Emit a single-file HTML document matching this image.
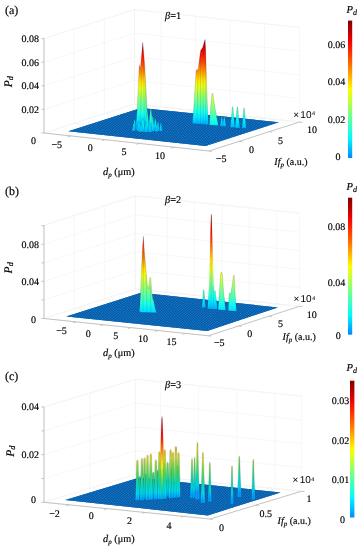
<!DOCTYPE html>
<html lang="en">
<head>
<meta charset="utf-8">
<title>Pd versus dp and Ifp for beta = 1, 2, 3</title>
<style>
html,body{margin:0;padding:0;background:#fff;}
body{width:363px;height:550px;overflow:hidden;}
svg{display:block;text-rendering:geometricPrecision;filter:blur(0.35px);}
.ts{font-family:"Liberation Serif","Times New Roman",serif;fill:#000000;stroke:#000;stroke-width:0.16px;}
.ss{font-family:"Liberation Sans",Arial,sans-serif;fill:#000000;}
</style>
</head>
<body>
<svg width="363" height="550" viewBox="0 0 363 550">
<defs>
<pattern id="mesha" width="2.75" height="2.6" patternUnits="userSpaceOnUse" patternTransform="translate(68.4 131.3) rotate(6.23)"><rect width="2.75" height="2.6" fill="#03468a"/><rect x="0.1" y="0.1" width="1.3" height="1.15" fill="#1892ee"/><rect x="1.475" y="1.4" width="1.3" height="1.15" fill="#1892ee"/></pattern>
<linearGradient id="ga" gradientUnits="userSpaceOnUse" x1="0" y1="0" x2="0" y2="-85.8"><stop offset="0" stop-color="#00b2ff"/><stop offset="0.07" stop-color="#00e5ff"/><stop offset="0.14" stop-color="#19ffe6"/><stop offset="0.21" stop-color="#4cffb3"/><stop offset="0.29" stop-color="#80ff80"/><stop offset="0.36" stop-color="#b3ff4c"/><stop offset="0.43" stop-color="#e5ff1a"/><stop offset="0.5" stop-color="#ffe600"/><stop offset="0.57" stop-color="#ffb300"/><stop offset="0.64" stop-color="#ff8000"/><stop offset="0.71" stop-color="#ff4c00"/><stop offset="0.79" stop-color="#ff1a00"/><stop offset="0.86" stop-color="#e60000"/><stop offset="0.93" stop-color="#b30000"/><stop offset="1" stop-color="#800000"/></linearGradient>
<linearGradient id="ca" x1="0" y1="1" x2="0" y2="0"><stop offset="0" stop-color="#008aff"/><stop offset="0.07" stop-color="#00c0ff"/><stop offset="0.14" stop-color="#00f6ff"/><stop offset="0.21" stop-color="#2cffd3"/><stop offset="0.29" stop-color="#62ff9d"/><stop offset="0.36" stop-color="#98ff67"/><stop offset="0.43" stop-color="#ceff31"/><stop offset="0.5" stop-color="#fffa00"/><stop offset="0.57" stop-color="#ffc400"/><stop offset="0.64" stop-color="#ff8e00"/><stop offset="0.71" stop-color="#ff5800"/><stop offset="0.79" stop-color="#ff2200"/><stop offset="0.86" stop-color="#eb0000"/><stop offset="0.93" stop-color="#b50000"/><stop offset="1" stop-color="#800000"/></linearGradient>
<pattern id="meshb" width="2.75" height="2.6" patternUnits="userSpaceOnUse" patternTransform="translate(66.3 316.5) rotate(6.01)"><rect width="2.75" height="2.6" fill="#03468a"/><rect x="0.1" y="0.1" width="1.3" height="1.15" fill="#1892ee"/><rect x="1.475" y="1.4" width="1.3" height="1.15" fill="#1892ee"/></pattern>
<linearGradient id="gb" gradientUnits="userSpaceOnUse" x1="0" y1="0" x2="0" y2="-93.5"><stop offset="0" stop-color="#00b2ff"/><stop offset="0.07" stop-color="#00e5ff"/><stop offset="0.14" stop-color="#19ffe6"/><stop offset="0.21" stop-color="#4cffb3"/><stop offset="0.29" stop-color="#80ff80"/><stop offset="0.36" stop-color="#b3ff4c"/><stop offset="0.43" stop-color="#e5ff1a"/><stop offset="0.5" stop-color="#ffe600"/><stop offset="0.57" stop-color="#ffb300"/><stop offset="0.64" stop-color="#ff8000"/><stop offset="0.71" stop-color="#ff4c00"/><stop offset="0.79" stop-color="#ff1a00"/><stop offset="0.86" stop-color="#e60000"/><stop offset="0.93" stop-color="#b30000"/><stop offset="1" stop-color="#800000"/></linearGradient>
<linearGradient id="cb" x1="0" y1="1" x2="0" y2="0"><stop offset="0" stop-color="#008aff"/><stop offset="0.07" stop-color="#00c0ff"/><stop offset="0.14" stop-color="#00f6ff"/><stop offset="0.21" stop-color="#2cffd3"/><stop offset="0.29" stop-color="#62ff9d"/><stop offset="0.36" stop-color="#98ff67"/><stop offset="0.43" stop-color="#ceff31"/><stop offset="0.5" stop-color="#fffa00"/><stop offset="0.57" stop-color="#ffc400"/><stop offset="0.64" stop-color="#ff8e00"/><stop offset="0.71" stop-color="#ff5800"/><stop offset="0.79" stop-color="#ff2200"/><stop offset="0.86" stop-color="#eb0000"/><stop offset="0.93" stop-color="#b50000"/><stop offset="1" stop-color="#800000"/></linearGradient>
<pattern id="meshc" width="2.75" height="2.6" patternUnits="userSpaceOnUse" patternTransform="translate(65.2 500) rotate(5.74)"><rect width="2.75" height="2.6" fill="#03468a"/><rect x="0.1" y="0.1" width="1.3" height="1.15" fill="#1892ee"/><rect x="1.475" y="1.4" width="1.3" height="1.15" fill="#1892ee"/></pattern>
<linearGradient id="gc" gradientUnits="userSpaceOnUse" x1="0" y1="0" x2="0" y2="-92"><stop offset="0.000" stop-color="#00a0ff"/><stop offset="0.076" stop-color="#00def5"/><stop offset="0.174" stop-color="#14e2b2"/><stop offset="0.272" stop-color="#50e664"/><stop offset="0.380" stop-color="#a5eb32"/><stop offset="0.446" stop-color="#eeee19"/><stop offset="0.500" stop-color="#ffd700"/><stop offset="0.598" stop-color="#ff9600"/><stop offset="0.707" stop-color="#ff3c00"/><stop offset="0.815" stop-color="#f00000"/><stop offset="0.924" stop-color="#aa0000"/><stop offset="1.000" stop-color="#800000"/></linearGradient>
<linearGradient id="cc" x1="0" y1="1" x2="0" y2="0"><stop offset="0" stop-color="#008aff"/><stop offset="0.07" stop-color="#00c0ff"/><stop offset="0.14" stop-color="#00f6ff"/><stop offset="0.21" stop-color="#2cffd3"/><stop offset="0.29" stop-color="#62ff9d"/><stop offset="0.36" stop-color="#98ff67"/><stop offset="0.43" stop-color="#ceff31"/><stop offset="0.5" stop-color="#fffa00"/><stop offset="0.57" stop-color="#ffc400"/><stop offset="0.64" stop-color="#ff8e00"/><stop offset="0.71" stop-color="#ff5800"/><stop offset="0.79" stop-color="#ff2200"/><stop offset="0.86" stop-color="#eb0000"/><stop offset="0.93" stop-color="#b50000"/><stop offset="1" stop-color="#800000"/></linearGradient>
</defs>
<rect width="363" height="550" fill="#ffffff"/>
<g id="panel-a"><line x1="44" y1="38.5" x2="134.5" y2="9.5" stroke="#f2f2f2" stroke-width="0.6"/>
<line x1="134.5" y1="9.5" x2="299.5" y2="27.5" stroke="#f2f2f2" stroke-width="0.6"/>
<line x1="134.5" y1="104" x2="134.5" y2="9.5" stroke="#f2f2f2" stroke-width="0.6"/>
<line x1="299.5" y1="122" x2="299.5" y2="27.5" stroke="#f2f2f2" stroke-width="0.6"/>
<line x1="44" y1="133" x2="134.5" y2="104" stroke="#f2f2f2" stroke-width="0.6"/>
<line x1="134.5" y1="104" x2="299.5" y2="122" stroke="#f2f2f2" stroke-width="0.6"/>
<line x1="44" y1="133" x2="134.5" y2="104" stroke="#f2f2f2" stroke-width="0.6"/>
<line x1="134.5" y1="104" x2="299.5" y2="122" stroke="#f2f2f2" stroke-width="0.6"/>
<line x1="44" y1="109.4" x2="134.5" y2="80.4" stroke="#f2f2f2" stroke-width="0.6"/>
<line x1="134.5" y1="80.4" x2="299.5" y2="98.4" stroke="#f2f2f2" stroke-width="0.6"/>
<line x1="44" y1="85.8" x2="134.5" y2="56.8" stroke="#f2f2f2" stroke-width="0.6"/>
<line x1="134.5" y1="56.8" x2="299.5" y2="74.8" stroke="#f2f2f2" stroke-width="0.6"/>
<line x1="44" y1="62.2" x2="134.5" y2="33.2" stroke="#f2f2f2" stroke-width="0.6"/>
<line x1="134.5" y1="33.2" x2="299.5" y2="51.2" stroke="#f2f2f2" stroke-width="0.6"/>
<line x1="44" y1="38.6" x2="134.5" y2="9.6" stroke="#f2f2f2" stroke-width="0.6"/>
<line x1="134.5" y1="9.6" x2="299.5" y2="27.6" stroke="#f2f2f2" stroke-width="0.6"/>
<line x1="44" y1="133" x2="44" y2="38.5" stroke="#f2f2f2" stroke-width="0.6"/>
<line x1="44" y1="133" x2="209" y2="151" stroke="#f2f2f2" stroke-width="0.6"/>
<line x1="74.17" y1="123.33" x2="74.17" y2="28.83" stroke="#f2f2f2" stroke-width="0.6"/>
<line x1="74.17" y1="123.33" x2="239.17" y2="141.33" stroke="#f2f2f2" stroke-width="0.6"/>
<line x1="104.33" y1="113.67" x2="104.33" y2="19.17" stroke="#f2f2f2" stroke-width="0.6"/>
<line x1="104.33" y1="113.67" x2="269.33" y2="131.67" stroke="#f2f2f2" stroke-width="0.6"/>
<line x1="134.5" y1="104" x2="134.5" y2="9.5" stroke="#f2f2f2" stroke-width="0.6"/>
<line x1="134.5" y1="104" x2="299.5" y2="122" stroke="#f2f2f2" stroke-width="0.6"/>
<line x1="161" y1="106.89" x2="161" y2="12.39" stroke="#f2f2f2" stroke-width="0.6"/>
<line x1="70.5" y1="135.89" x2="161" y2="106.89" stroke="#f2f2f2" stroke-width="0.6"/>
<line x1="195.5" y1="110.65" x2="195.5" y2="16.15" stroke="#f2f2f2" stroke-width="0.6"/>
<line x1="105" y1="139.65" x2="195.5" y2="110.65" stroke="#f2f2f2" stroke-width="0.6"/>
<line x1="230" y1="114.42" x2="230" y2="19.92" stroke="#f2f2f2" stroke-width="0.6"/>
<line x1="139.5" y1="143.42" x2="230" y2="114.42" stroke="#f2f2f2" stroke-width="0.6"/>
<line x1="264.5" y1="118.18" x2="264.5" y2="23.68" stroke="#f2f2f2" stroke-width="0.6"/>
<line x1="174" y1="147.18" x2="264.5" y2="118.18" stroke="#f2f2f2" stroke-width="0.6"/>
<line x1="44" y1="133" x2="44" y2="38.5" stroke="#bcbcbc" stroke-width="0.9"/>
<line x1="44" y1="133" x2="209" y2="151" stroke="#bcbcbc" stroke-width="0.9"/>
<line x1="209" y1="151" x2="299.5" y2="122" stroke="#bcbcbc" stroke-width="0.9"/>
<line x1="44" y1="133" x2="41.5" y2="133" stroke="#bcbcbc" stroke-width="0.9"/>
<line x1="44" y1="109.4" x2="41.5" y2="109.4" stroke="#bcbcbc" stroke-width="0.9"/>
<line x1="44" y1="85.8" x2="41.5" y2="85.8" stroke="#bcbcbc" stroke-width="0.9"/>
<line x1="44" y1="62.2" x2="41.5" y2="62.2" stroke="#bcbcbc" stroke-width="0.9"/>
<line x1="44" y1="38.6" x2="41.5" y2="38.6" stroke="#bcbcbc" stroke-width="0.9"/>
<line x1="70.5" y1="135.89" x2="67.64" y2="136.81" stroke="#bcbcbc" stroke-width="0.9"/>
<line x1="105" y1="139.65" x2="102.14" y2="140.57" stroke="#bcbcbc" stroke-width="0.9"/>
<line x1="139.5" y1="143.42" x2="136.64" y2="144.33" stroke="#bcbcbc" stroke-width="0.9"/>
<line x1="174" y1="147.18" x2="171.14" y2="148.1" stroke="#bcbcbc" stroke-width="0.9"/>
<line x1="209" y1="151" x2="211.98" y2="151.33" stroke="#bcbcbc" stroke-width="0.9"/>
<line x1="239.17" y1="141.33" x2="242.15" y2="141.66" stroke="#bcbcbc" stroke-width="0.9"/>
<line x1="269.33" y1="131.67" x2="272.32" y2="131.99" stroke="#bcbcbc" stroke-width="0.9"/>
<line x1="299.5" y1="122" x2="302.48" y2="122.33" stroke="#bcbcbc" stroke-width="0.9"/>
<polygon points="68.4,131.3 141,108 278.8,122.2 205.5,146" fill="#0f6ab4"/>
<polygon points="68.4,131.3 141,108 278.8,122.2 205.5,146" fill="url(#mesha)"/>
<g transform="translate(0 130.5)"><polygon points="132.45,0 133.62,-5.6 134.25,-10 134.7,-11.2 135.15,-10 135.78,-5.6 136.95,0" fill="url(#ga)" stroke="#0a2a3a" stroke-opacity="0.3" stroke-width="0.5"/></g>
<g transform="translate(0 130)"><polygon points="135.25,0 136.42,-7 137.05,-12.8 137.5,-14 137.95,-12.8 138.58,-7 139.75,0" fill="url(#ga)" stroke="#0a2a3a" stroke-opacity="0.3" stroke-width="0.5"/></g>
<g transform="translate(0 125.5)"><polygon points="135.5,4 137,-13.5 138,-33.5 138.8,-50.5 139.3,-60.8 140.3,-56.5 141.3,-67.5 142.8,-83.2 143.6,-73.5 144.8,-59.5 146.3,-31.5 147,-17.5 148.5,-5.5 150.5,4.5" fill="url(#ga)" stroke="#0a2a3a" stroke-opacity="0.3" stroke-width="0.5"/><line x1="141.5" y1="-55.5" x2="140.5" y2="2.5" stroke="#143c50" stroke-opacity="0.28" stroke-width="0.5"/><line x1="143.5" y1="-65.5" x2="144.5" y2="2.5" stroke="#143c50" stroke-opacity="0.28" stroke-width="0.5"/><line x1="145" y1="-45.5" x2="147" y2="2.5" stroke="#143c50" stroke-opacity="0.28" stroke-width="0.5"/></g>
<g transform="translate(0 131)"><polygon points="147.8,0 149.36,-11.15 150.35,-21.1 150.8,-22.3 151.25,-21.1 152.24,-11.15 153.8,0" fill="url(#ga)" stroke="#0a2a3a" stroke-opacity="0.3" stroke-width="0.5"/></g>
<g transform="translate(0 131.5)"><polygon points="144.5,0 145.8,-9.25 146.55,-17.3 147,-18.5 147.45,-17.3 148.2,-9.25 149.5,0" fill="url(#ga)" stroke="#0a2a3a" stroke-opacity="0.3" stroke-width="0.5"/></g>
<g transform="translate(0 132)"><polygon points="140.5,0 141.8,-7 142.55,-12.8 143,-14 143.45,-12.8 144.2,-7 145.5,0" fill="url(#ga)" stroke="#0a2a3a" stroke-opacity="0.3" stroke-width="0.5"/></g>
<g transform="translate(0 131)"><polygon points="152.8,0 154.1,-6.25 154.85,-11.3 155.3,-12.5 155.75,-11.3 156.5,-6.25 157.8,0" fill="url(#ga)" stroke="#0a2a3a" stroke-opacity="0.3" stroke-width="0.5"/></g>
<g transform="translate(0 131.5)"><polygon points="136.75,0 137.92,-5.25 138.55,-9.3 139,-10.5 139.45,-9.3 140.08,-5.25 141.25,0" fill="url(#ga)" stroke="#0a2a3a" stroke-opacity="0.3" stroke-width="0.5"/></g>
<g transform="translate(0 131.5)"><polygon points="150.8,0 151.84,-7.75 152.35,-14.3 152.8,-15.5 153.25,-14.3 153.76,-7.75 154.8,0" fill="url(#ga)" stroke="#0a2a3a" stroke-opacity="0.3" stroke-width="0.5"/></g>
<g transform="translate(0 131)"><polygon points="156,0 157.04,-5 157.55,-8.8 158,-10 158.45,-8.8 158.96,-5 160,0" fill="url(#ga)" stroke="#0a2a3a" stroke-opacity="0.3" stroke-width="0.5"/></g>
<g transform="translate(0 131.2)"><polygon points="159.15,0 160.06,-4.35 160.45,-7.5 160.9,-8.7 161.35,-7.5 161.74,-4.35 162.65,0" fill="url(#ga)" stroke="#0a2a3a" stroke-opacity="0.3" stroke-width="0.5"/></g>
<g transform="translate(0 131)"><polygon points="131.8,0 132.74,-4 133.15,-6.8 133.6,-8 134.05,-6.8 134.46,-4 135.4,0" fill="url(#ga)" stroke="#0a2a3a" stroke-opacity="0.3" stroke-width="0.5"/></g>
<g transform="translate(0 132)"><polygon points="139,0 140.04,-4.5 140.55,-7.8 141,-9 141.45,-7.8 141.96,-4.5 143,0" fill="url(#ga)" stroke="#0a2a3a" stroke-opacity="0.3" stroke-width="0.5"/></g>
<g transform="translate(0 132.3)"><polygon points="144,0 145.04,-5.65 145.55,-10.1 146,-11.3 146.45,-10.1 146.96,-5.65 148,0" fill="url(#ga)" stroke="#0a2a3a" stroke-opacity="0.3" stroke-width="0.5"/></g>
<g transform="translate(0 132.3)"><polygon points="148,0 149.04,-5.15 149.55,-9.1 150,-10.3 150.45,-9.1 150.96,-5.15 152,0" fill="url(#ga)" stroke="#0a2a3a" stroke-opacity="0.3" stroke-width="0.5"/></g>
<g transform="translate(0 131.8)"><polygon points="154.75,0 155.66,-3.9 156.05,-6.6 156.5,-7.8 156.95,-6.6 157.34,-3.9 158.25,0" fill="url(#ga)" stroke="#0a2a3a" stroke-opacity="0.3" stroke-width="0.5"/></g>
<g transform="translate(0 123.5)"><polygon points="192.3,0 193.6,-13.5 195,-35.5 196.1,-53.2 198.2,-54.2 199.3,-63.5 200.6,-73 202.6,-76 203.8,-80 205.1,-84.2 205.6,-75.5 206.1,-59.5 206.7,-37.5 207.4,-17.5 208.5,1.3" fill="url(#ga)" stroke="#0a2a3a" stroke-opacity="0.3" stroke-width="0.5"/><line x1="198" y1="-53.5" x2="197" y2="-0.5" stroke="#143c50" stroke-opacity="0.28" stroke-width="0.5"/><line x1="200.5" y1="-68.5" x2="200.5" y2="0.5" stroke="#143c50" stroke-opacity="0.28" stroke-width="0.5"/><line x1="203" y1="-73.5" x2="203.3" y2="0.5" stroke="#143c50" stroke-opacity="0.28" stroke-width="0.5"/><line x1="205.2" y1="-75.5" x2="205.8" y2="0.5" stroke="#143c50" stroke-opacity="0.28" stroke-width="0.5"/></g>
<g transform="translate(0 133)"><polygon points="209.3,-8 210.6,-25 211.8,-38.5 212.3,-40 212.9,-38.5 215,-25 218.4,-7.4" fill="url(#ga)" stroke="#0a2a3a" stroke-opacity="0.3" stroke-width="0.5"/></g>
<g transform="translate(0 126.2)"><polygon points="219.8,0 220.84,-4.95 221.35,-8.7 221.8,-9.9 222.25,-8.7 222.76,-4.95 223.8,0" fill="url(#ga)" stroke="#0a2a3a" stroke-opacity="0.3" stroke-width="0.5"/></g>
<g transform="translate(0 126.4)"><polygon points="222.2,0 223.29,-4.95 223.85,-8.7 224.3,-9.9 224.75,-8.7 225.31,-4.95 226.4,0" fill="url(#ga)" stroke="#0a2a3a" stroke-opacity="0.3" stroke-width="0.5"/></g>
<g transform="translate(0 127.6)"><polygon points="230.2,0 231.45,-10.5 232.15,-19.8 232.6,-21 233.05,-19.8 233.75,-10.5 235,0" fill="url(#ga)" stroke="#0a2a3a" stroke-opacity="0.3" stroke-width="0.5"/></g>
<g transform="translate(0 128)"><polygon points="234.8,0 236.15,-10.6 236.95,-20 237.4,-21.2 237.85,-20 238.65,-10.6 240,0" fill="url(#ga)" stroke="#0a2a3a" stroke-opacity="0.3" stroke-width="0.5"/></g>
<g transform="translate(0 128.2)"><polygon points="241.8,0 243,-10.2 243.65,-19.2 244.1,-20.4 244.55,-19.2 245.2,-10.2 246.4,0" fill="url(#ga)" stroke="#0a2a3a" stroke-opacity="0.3" stroke-width="0.5"/></g>
<text class="ts" x="5" y="14" font-size="12" text-anchor="start">(a)</text>
<text class="ts" x="165" y="19.2" font-size="10.3" text-anchor="start"><tspan font-style="italic">β</tspan>=1</text>
<text class="ts" x="39" y="112.7" font-size="10" text-anchor="end">0.02</text>
<text class="ts" x="39" y="89.1" font-size="10" text-anchor="end">0.04</text>
<text class="ts" x="39" y="65.5" font-size="10" text-anchor="end">0.06</text>
<text class="ts" x="39" y="41.9" font-size="10" text-anchor="end">0.08</text>
<text class="ts" x="33.5" y="143.8" font-size="10" text-anchor="middle">0</text>
<text class="ts" x="56.7" y="148.3" font-size="10" text-anchor="middle">−5</text>
<text class="ts" x="90.2" y="151" font-size="10" text-anchor="middle">0</text>
<text class="ts" x="124" y="155.3" font-size="10" text-anchor="middle">5</text>
<text class="ts" x="160" y="159" font-size="10" text-anchor="middle">10</text>
<text class="ts" x="221.3" y="162.1" font-size="10" text-anchor="middle">−5</text>
<text class="ts" x="251.4" y="153.3" font-size="10" text-anchor="middle">0</text>
<text class="ts" x="280.5" y="143.6" font-size="10" text-anchor="middle">5</text>
<text class="ts" x="312" y="132.6" font-size="10" text-anchor="middle">10</text>
<text class="ts" font-size="11.5" text-anchor="middle" transform="translate(12 81.7) rotate(-90)"><tspan font-style="italic">P</tspan><tspan font-style="italic" font-size="8.3" dy="0.9">d</tspan></text>
<text class="ts" font-size="10.3" x="103" y="175"><tspan font-style="italic">d</tspan><tspan font-style="italic" font-size="7" dy="2">p</tspan><tspan dy="-2"> (μm)</tspan></text>
<text class="ts" font-size="10" x="274.3" y="165"><tspan font-style="italic">If</tspan><tspan font-style="italic" font-size="7" dy="2">p</tspan><tspan dy="-2"> (a.u.)</tspan></text>
<text class="ss" font-size="10" x="293.3" y="117.5">×<tspan dx="1.2">10</tspan><tspan font-size="5.6" dx="0.5" dy="-2.3">4</tspan></text>
<rect x="348" y="20.6" width="4.2" height="137.4" fill="url(#ca)"/>
<text class="ts" x="345.3" y="47.7" font-size="10" text-anchor="end">0.06</text>
<text class="ts" x="345.3" y="85.3" font-size="10" text-anchor="end">0.04</text>
<text class="ts" x="345.3" y="123.3" font-size="10" text-anchor="end">0.02</text>
<text class="ts" x="338" y="159.5" font-size="10" text-anchor="middle">0</text>
<text class="ts" font-size="10.6" x="346.5" y="13"><tspan font-style="italic">P</tspan><tspan font-style="italic" font-size="8" dy="2.2">d</tspan></text></g>
<g id="panel-b"><line x1="44" y1="225" x2="135.2" y2="195.5" stroke="#f2f2f2" stroke-width="0.6"/>
<line x1="135.2" y1="195.5" x2="299.6" y2="212.8" stroke="#f2f2f2" stroke-width="0.6"/>
<line x1="135.2" y1="289" x2="135.2" y2="195.5" stroke="#f2f2f2" stroke-width="0.6"/>
<line x1="299.6" y1="306.3" x2="299.6" y2="212.8" stroke="#f2f2f2" stroke-width="0.6"/>
<line x1="44" y1="318.5" x2="135.2" y2="289" stroke="#f2f2f2" stroke-width="0.6"/>
<line x1="135.2" y1="289" x2="299.6" y2="306.3" stroke="#f2f2f2" stroke-width="0.6"/>
<line x1="44" y1="318.5" x2="135.2" y2="289" stroke="#f2f2f2" stroke-width="0.6"/>
<line x1="135.2" y1="289" x2="299.6" y2="306.3" stroke="#f2f2f2" stroke-width="0.6"/>
<line x1="44" y1="299.95" x2="135.2" y2="270.45" stroke="#f2f2f2" stroke-width="0.6"/>
<line x1="135.2" y1="270.45" x2="299.6" y2="287.75" stroke="#f2f2f2" stroke-width="0.6"/>
<line x1="44" y1="281.4" x2="135.2" y2="251.9" stroke="#f2f2f2" stroke-width="0.6"/>
<line x1="135.2" y1="251.9" x2="299.6" y2="269.2" stroke="#f2f2f2" stroke-width="0.6"/>
<line x1="44" y1="262.85" x2="135.2" y2="233.35" stroke="#f2f2f2" stroke-width="0.6"/>
<line x1="135.2" y1="233.35" x2="299.6" y2="250.65" stroke="#f2f2f2" stroke-width="0.6"/>
<line x1="44" y1="244.3" x2="135.2" y2="214.8" stroke="#f2f2f2" stroke-width="0.6"/>
<line x1="135.2" y1="214.8" x2="299.6" y2="232.1" stroke="#f2f2f2" stroke-width="0.6"/>
<line x1="44" y1="225.75" x2="135.2" y2="196.25" stroke="#f2f2f2" stroke-width="0.6"/>
<line x1="135.2" y1="196.25" x2="299.6" y2="213.55" stroke="#f2f2f2" stroke-width="0.6"/>
<line x1="44" y1="318.5" x2="44" y2="225" stroke="#f2f2f2" stroke-width="0.6"/>
<line x1="44" y1="318.5" x2="208.4" y2="335.8" stroke="#f2f2f2" stroke-width="0.6"/>
<line x1="74.4" y1="308.67" x2="74.4" y2="215.17" stroke="#f2f2f2" stroke-width="0.6"/>
<line x1="74.4" y1="308.67" x2="238.8" y2="325.97" stroke="#f2f2f2" stroke-width="0.6"/>
<line x1="104.8" y1="298.83" x2="104.8" y2="205.33" stroke="#f2f2f2" stroke-width="0.6"/>
<line x1="104.8" y1="298.83" x2="269.2" y2="316.13" stroke="#f2f2f2" stroke-width="0.6"/>
<line x1="135.2" y1="289" x2="135.2" y2="195.5" stroke="#f2f2f2" stroke-width="0.6"/>
<line x1="135.2" y1="289" x2="299.6" y2="306.3" stroke="#f2f2f2" stroke-width="0.6"/>
<line x1="167.08" y1="292.36" x2="167.08" y2="198.86" stroke="#f2f2f2" stroke-width="0.6"/>
<line x1="75.88" y1="321.86" x2="167.08" y2="292.36" stroke="#f2f2f2" stroke-width="0.6"/>
<line x1="194.48" y1="295.24" x2="194.48" y2="201.74" stroke="#f2f2f2" stroke-width="0.6"/>
<line x1="103.28" y1="324.74" x2="194.48" y2="295.24" stroke="#f2f2f2" stroke-width="0.6"/>
<line x1="221.88" y1="298.12" x2="221.88" y2="204.62" stroke="#f2f2f2" stroke-width="0.6"/>
<line x1="130.68" y1="327.62" x2="221.88" y2="298.12" stroke="#f2f2f2" stroke-width="0.6"/>
<line x1="249.28" y1="301.01" x2="249.28" y2="207.51" stroke="#f2f2f2" stroke-width="0.6"/>
<line x1="158.08" y1="330.51" x2="249.28" y2="301.01" stroke="#f2f2f2" stroke-width="0.6"/>
<line x1="276.68" y1="303.89" x2="276.68" y2="210.39" stroke="#f2f2f2" stroke-width="0.6"/>
<line x1="185.48" y1="333.39" x2="276.68" y2="303.89" stroke="#f2f2f2" stroke-width="0.6"/>
<line x1="44" y1="318.5" x2="44" y2="225" stroke="#bcbcbc" stroke-width="0.9"/>
<line x1="44" y1="318.5" x2="208.4" y2="335.8" stroke="#bcbcbc" stroke-width="0.9"/>
<line x1="208.4" y1="335.8" x2="299.6" y2="306.3" stroke="#bcbcbc" stroke-width="0.9"/>
<line x1="44" y1="318.5" x2="41.5" y2="318.5" stroke="#bcbcbc" stroke-width="0.9"/>
<line x1="44" y1="299.95" x2="41.5" y2="299.95" stroke="#bcbcbc" stroke-width="0.9"/>
<line x1="44" y1="281.4" x2="41.5" y2="281.4" stroke="#bcbcbc" stroke-width="0.9"/>
<line x1="44" y1="262.85" x2="41.5" y2="262.85" stroke="#bcbcbc" stroke-width="0.9"/>
<line x1="44" y1="244.3" x2="41.5" y2="244.3" stroke="#bcbcbc" stroke-width="0.9"/>
<line x1="44" y1="225.75" x2="41.5" y2="225.75" stroke="#bcbcbc" stroke-width="0.9"/>
<line x1="75.88" y1="321.86" x2="73.03" y2="322.78" stroke="#bcbcbc" stroke-width="0.9"/>
<line x1="103.28" y1="324.74" x2="100.43" y2="325.66" stroke="#bcbcbc" stroke-width="0.9"/>
<line x1="130.68" y1="327.62" x2="127.83" y2="328.55" stroke="#bcbcbc" stroke-width="0.9"/>
<line x1="158.08" y1="330.51" x2="155.23" y2="331.43" stroke="#bcbcbc" stroke-width="0.9"/>
<line x1="185.48" y1="333.39" x2="182.63" y2="334.31" stroke="#bcbcbc" stroke-width="0.9"/>
<line x1="208.4" y1="335.8" x2="211.38" y2="336.11" stroke="#bcbcbc" stroke-width="0.9"/>
<line x1="238.8" y1="325.97" x2="241.78" y2="326.28" stroke="#bcbcbc" stroke-width="0.9"/>
<line x1="269.2" y1="316.13" x2="272.18" y2="316.45" stroke="#bcbcbc" stroke-width="0.9"/>
<line x1="299.6" y1="306.3" x2="302.58" y2="306.61" stroke="#bcbcbc" stroke-width="0.9"/>
<polygon points="66.3,316.5 141,292.8 277.8,307.5 207.2,330.9" fill="#0f6ab4"/>
<polygon points="66.3,316.5 141,292.8 277.8,307.5 207.2,330.9" fill="url(#meshb)"/>
<g transform="translate(0 311)"><polygon points="139,0 140.04,-5.5 140.55,-9.8 141,-11 141.45,-9.8 141.96,-5.5 143,0" fill="url(#gb)" stroke="#0a2a3a" stroke-opacity="0.3" stroke-width="0.5"/></g>
<g transform="translate(0 312.3)"><polygon points="151.25,0 152.42,-6.65 153.05,-12.1 153.5,-13.3 153.95,-12.1 154.58,-6.65 155.75,0" fill="url(#gb)" stroke="#0a2a3a" stroke-opacity="0.3" stroke-width="0.5"/></g>
<g transform="translate(0 317)"><polygon points="139.6,-4.7 140.3,-19 141.4,-45 142.3,-65 143.3,-81 144.4,-65 145.8,-49 147.2,-33 148.6,-28 149.6,-38 150.2,-39.7 150.9,-38 151.6,-27 153,-17 156.5,-4.2" fill="url(#gb)" stroke="#0a2a3a" stroke-opacity="0.3" stroke-width="0.5"/><line x1="143.5" y1="-67" x2="143" y2="-6" stroke="#143c50" stroke-opacity="0.28" stroke-width="0.5"/><line x1="146" y1="-42" x2="147" y2="-5" stroke="#143c50" stroke-opacity="0.28" stroke-width="0.5"/><line x1="150" y1="-32" x2="151" y2="-5" stroke="#143c50" stroke-opacity="0.28" stroke-width="0.5"/></g>
<g transform="translate(0 307.8)"><polygon points="201.7,0 202.74,-9.15 203.25,-17.1 203.7,-18.3 204.15,-17.1 204.66,-9.15 205.7,0" fill="url(#gb)" stroke="#0a2a3a" stroke-opacity="0.3" stroke-width="0.5"/></g>
<g transform="translate(0 309)"><polygon points="207.6,-0.2 208.6,-15 209.3,-25 209.9,-47 210.4,-74 211,-93 211.3,-95.4 211.6,-93 212.2,-74 212.8,-47 213.5,-25 214,-19 215.5,-18 216.3,-11 217.3,0.3" fill="url(#gb)" stroke="#0a2a3a" stroke-opacity="0.15" stroke-width="0.5"/><line x1="211.2" y1="-47" x2="211" y2="-1" stroke="#143c50" stroke-opacity="0.28" stroke-width="0.5"/><line x1="212.8" y1="-23" x2="214" y2="-1" stroke="#143c50" stroke-opacity="0.28" stroke-width="0.5"/></g>
<g transform="translate(0 316)"><polygon points="218,-6.2 219.4,-24 220.6,-42 221,-43.6 221.8,-43.6 222.3,-42 223.6,-24 225.7,-5.7" fill="url(#gb)" stroke="#0a2a3a" stroke-opacity="0.3" stroke-width="0.5"/></g>
<g transform="translate(0 316)"><polygon points="228.2,-5.2 229,-20 229.7,-23.4 230.6,-21 232.4,-32 233.5,-40.5 234.2,-41 234.8,-28 235.6,-15 236.6,-4.7" fill="url(#gb)" stroke="#0a2a3a" stroke-opacity="0.3" stroke-width="0.5"/></g>
<text class="ts" x="5" y="194.6" font-size="12" text-anchor="start">(b)</text>
<text class="ts" x="165" y="202.8" font-size="10.3" text-anchor="start"><tspan font-style="italic">β</tspan>=2</text>
<text class="ts" x="39" y="284.7" font-size="10" text-anchor="end">0.04</text>
<text class="ts" x="39" y="247.6" font-size="10" text-anchor="end">0.08</text>
<text class="ts" x="33.5" y="322.8" font-size="10" text-anchor="middle">0</text>
<text class="ts" x="61.5" y="333.5" font-size="10" text-anchor="middle">−5</text>
<text class="ts" x="88.3" y="336.9" font-size="10" text-anchor="middle">0</text>
<text class="ts" x="115.8" y="338.5" font-size="10" text-anchor="middle">5</text>
<text class="ts" x="143" y="341.9" font-size="10" text-anchor="middle">10</text>
<text class="ts" x="171.5" y="344.6" font-size="10" text-anchor="middle">15</text>
<text class="ts" x="219.3" y="346.3" font-size="10" text-anchor="middle">−5</text>
<text class="ts" x="249.7" y="336.9" font-size="10" text-anchor="middle">0</text>
<text class="ts" x="280.6" y="327.3" font-size="10" text-anchor="middle">5</text>
<text class="ts" x="311.7" y="317.6" font-size="10" text-anchor="middle">10</text>
<text class="ts" font-size="11.5" text-anchor="middle" transform="translate(12 267.8) rotate(-90)"><tspan font-style="italic">P</tspan><tspan font-style="italic" font-size="8.3" dy="0.9">d</tspan></text>
<text class="ts" font-size="10.3" x="103" y="356"><tspan font-style="italic">d</tspan><tspan font-style="italic" font-size="7" dy="2">p</tspan><tspan dy="-2"> (μm)</tspan></text>
<text class="ts" font-size="10" x="282.6" y="339.7"><tspan font-style="italic">If</tspan><tspan font-style="italic" font-size="7" dy="2">p</tspan><tspan dy="-2"> (a.u.)</tspan></text>
<text class="ss" font-size="10" x="293.5" y="301.8">×<tspan dx="1.2">10</tspan><tspan font-size="5.6" dx="0.5" dy="-2.3">4</tspan></text>
<rect x="348" y="197.7" width="4.2" height="137" fill="url(#cb)"/>
<text class="ts" x="345.3" y="229.9" font-size="10" text-anchor="end">0.08</text>
<text class="ts" x="345.3" y="285.8" font-size="10" text-anchor="end">0.04</text>
<text class="ts" x="338.3" y="338.6" font-size="10" text-anchor="middle">0</text>
<text class="ts" font-size="10.6" x="346.5" y="189.7"><tspan font-style="italic">P</tspan><tspan font-style="italic" font-size="8" dy="2.2">d</tspan></text></g>
<g id="panel-c"><line x1="44" y1="407" x2="135.4" y2="379.3" stroke="#f2f2f2" stroke-width="0.6"/>
<line x1="135.4" y1="379.3" x2="301.4" y2="396" stroke="#f2f2f2" stroke-width="0.6"/>
<line x1="135.4" y1="474.6" x2="135.4" y2="379.3" stroke="#f2f2f2" stroke-width="0.6"/>
<line x1="301.4" y1="491.3" x2="301.4" y2="396" stroke="#f2f2f2" stroke-width="0.6"/>
<line x1="44" y1="502.3" x2="135.4" y2="474.6" stroke="#f2f2f2" stroke-width="0.6"/>
<line x1="135.4" y1="474.6" x2="301.4" y2="491.3" stroke="#f2f2f2" stroke-width="0.6"/>
<line x1="44" y1="502.3" x2="135.4" y2="474.6" stroke="#f2f2f2" stroke-width="0.6"/>
<line x1="135.4" y1="474.6" x2="301.4" y2="491.3" stroke="#f2f2f2" stroke-width="0.6"/>
<line x1="44" y1="478.47" x2="135.4" y2="450.77" stroke="#f2f2f2" stroke-width="0.6"/>
<line x1="135.4" y1="450.77" x2="301.4" y2="467.47" stroke="#f2f2f2" stroke-width="0.6"/>
<line x1="44" y1="454.64" x2="135.4" y2="426.94" stroke="#f2f2f2" stroke-width="0.6"/>
<line x1="135.4" y1="426.94" x2="301.4" y2="443.64" stroke="#f2f2f2" stroke-width="0.6"/>
<line x1="44" y1="430.81" x2="135.4" y2="403.11" stroke="#f2f2f2" stroke-width="0.6"/>
<line x1="135.4" y1="403.11" x2="301.4" y2="419.81" stroke="#f2f2f2" stroke-width="0.6"/>
<line x1="44" y1="406.98" x2="135.4" y2="379.28" stroke="#f2f2f2" stroke-width="0.6"/>
<line x1="135.4" y1="379.28" x2="301.4" y2="395.98" stroke="#f2f2f2" stroke-width="0.6"/>
<line x1="44" y1="502.3" x2="44" y2="407" stroke="#f2f2f2" stroke-width="0.6"/>
<line x1="44" y1="502.3" x2="210" y2="519" stroke="#f2f2f2" stroke-width="0.6"/>
<line x1="89.7" y1="488.45" x2="89.7" y2="393.15" stroke="#f2f2f2" stroke-width="0.6"/>
<line x1="89.7" y1="488.45" x2="255.7" y2="505.15" stroke="#f2f2f2" stroke-width="0.6"/>
<line x1="135.4" y1="474.6" x2="135.4" y2="379.3" stroke="#f2f2f2" stroke-width="0.6"/>
<line x1="135.4" y1="474.6" x2="301.4" y2="491.3" stroke="#f2f2f2" stroke-width="0.6"/>
<line x1="160.4" y1="477.12" x2="160.4" y2="381.82" stroke="#f2f2f2" stroke-width="0.6"/>
<line x1="69" y1="504.82" x2="160.4" y2="477.12" stroke="#f2f2f2" stroke-width="0.6"/>
<line x1="198.6" y1="480.96" x2="198.6" y2="385.66" stroke="#f2f2f2" stroke-width="0.6"/>
<line x1="107.2" y1="508.66" x2="198.6" y2="480.96" stroke="#f2f2f2" stroke-width="0.6"/>
<line x1="236.8" y1="484.8" x2="236.8" y2="389.5" stroke="#f2f2f2" stroke-width="0.6"/>
<line x1="145.4" y1="512.5" x2="236.8" y2="484.8" stroke="#f2f2f2" stroke-width="0.6"/>
<line x1="275" y1="488.64" x2="275" y2="393.34" stroke="#f2f2f2" stroke-width="0.6"/>
<line x1="183.6" y1="516.34" x2="275" y2="488.64" stroke="#f2f2f2" stroke-width="0.6"/>
<line x1="44" y1="502.3" x2="44" y2="407" stroke="#bcbcbc" stroke-width="0.9"/>
<line x1="44" y1="502.3" x2="210" y2="519" stroke="#bcbcbc" stroke-width="0.9"/>
<line x1="210" y1="519" x2="301.4" y2="491.3" stroke="#bcbcbc" stroke-width="0.9"/>
<line x1="44" y1="502.3" x2="41.5" y2="502.3" stroke="#bcbcbc" stroke-width="0.9"/>
<line x1="44" y1="478.47" x2="41.5" y2="478.47" stroke="#bcbcbc" stroke-width="0.9"/>
<line x1="44" y1="454.64" x2="41.5" y2="454.64" stroke="#bcbcbc" stroke-width="0.9"/>
<line x1="44" y1="430.81" x2="41.5" y2="430.81" stroke="#bcbcbc" stroke-width="0.9"/>
<line x1="44" y1="406.98" x2="41.5" y2="406.98" stroke="#bcbcbc" stroke-width="0.9"/>
<line x1="69" y1="504.82" x2="66.13" y2="505.69" stroke="#bcbcbc" stroke-width="0.9"/>
<line x1="107.2" y1="508.66" x2="104.33" y2="509.53" stroke="#bcbcbc" stroke-width="0.9"/>
<line x1="145.4" y1="512.5" x2="142.53" y2="513.37" stroke="#bcbcbc" stroke-width="0.9"/>
<line x1="183.6" y1="516.34" x2="180.73" y2="517.21" stroke="#bcbcbc" stroke-width="0.9"/>
<line x1="210" y1="519" x2="212.98" y2="519.3" stroke="#bcbcbc" stroke-width="0.9"/>
<line x1="255.7" y1="505.15" x2="258.68" y2="505.45" stroke="#bcbcbc" stroke-width="0.9"/>
<line x1="301.4" y1="491.3" x2="304.38" y2="491.6" stroke="#bcbcbc" stroke-width="0.9"/>
<polygon points="65.2,500 138.8,477.8 280.6,492.4 207.8,515.4" fill="#0f6ab4"/>
<polygon points="65.2,500 138.8,477.8 280.6,492.4 207.8,515.4" fill="url(#meshc)"/>
<g transform="translate(0 497.5)"><polygon points="137.6,0 138.48,-10.75 139.1,-20.3 139.8,-21.5 140.5,-20.3 141.12,-10.75 142,0" fill="url(#gc)" stroke="#0a2a3a" stroke-opacity="0.38" stroke-width="0.5"/><line x1="139.8" y1="-19.5" x2="139.8" y2="-0.5" stroke="#143c50" stroke-opacity="0.28" stroke-width="0.5"/></g>
<g transform="translate(0 497.5)"><polygon points="143.6,0 144.48,-11.75 145.1,-22.3 145.8,-23.5 146.5,-22.3 147.12,-11.75 148,0" fill="url(#gc)" stroke="#0a2a3a" stroke-opacity="0.38" stroke-width="0.5"/><line x1="145.8" y1="-21.5" x2="145.8" y2="-0.5" stroke="#143c50" stroke-opacity="0.28" stroke-width="0.5"/></g>
<g transform="translate(0 497.3)"><polygon points="147.1,0 147.94,-9.65 148.5,-18.1 149.2,-19.3 149.9,-18.1 150.46,-9.65 151.3,0" fill="url(#gc)" stroke="#0a2a3a" stroke-opacity="0.38" stroke-width="0.5"/><line x1="149.2" y1="-17.3" x2="149.2" y2="-0.5" stroke="#143c50" stroke-opacity="0.28" stroke-width="0.5"/></g>
<g transform="translate(0 497.5)"><polygon points="151.1,0 151.98,-12.75 152.6,-24.3 153.3,-25.5 154,-24.3 154.62,-12.75 155.5,0" fill="url(#gc)" stroke="#0a2a3a" stroke-opacity="0.38" stroke-width="0.5"/><line x1="153.3" y1="-23.5" x2="153.3" y2="-0.5" stroke="#143c50" stroke-opacity="0.28" stroke-width="0.5"/></g>
<g transform="translate(0 497)"><polygon points="155.3,0 156.18,-13.5 156.8,-25.8 157.5,-27 158.2,-25.8 158.82,-13.5 159.7,0" fill="url(#gc)" stroke="#0a2a3a" stroke-opacity="0.38" stroke-width="0.5"/><line x1="157.5" y1="-25" x2="157.5" y2="-0.5" stroke="#143c50" stroke-opacity="0.28" stroke-width="0.5"/></g>
<g transform="translate(0 496.8)"><polygon points="161.3,0 162.14,-15.4 162.7,-29.6 163.4,-30.8 164.1,-29.6 164.66,-15.4 165.5,0" fill="url(#gc)" stroke="#0a2a3a" stroke-opacity="0.38" stroke-width="0.5"/><line x1="163.4" y1="-28.8" x2="163.4" y2="-0.5" stroke="#143c50" stroke-opacity="0.28" stroke-width="0.5"/></g>
<g transform="translate(0 496.5)"><polygon points="165.4,0 166.28,-17.25 166.9,-33.3 167.6,-34.5 168.3,-33.3 168.92,-17.25 169.8,0" fill="url(#gc)" stroke="#0a2a3a" stroke-opacity="0.38" stroke-width="0.5"/><line x1="167.6" y1="-32.5" x2="167.6" y2="-0.5" stroke="#143c50" stroke-opacity="0.28" stroke-width="0.5"/></g>
<g transform="translate(0 496.5)"><polygon points="169.9,0 170.74,-14.25 171.3,-27.3 172,-28.5 172.7,-27.3 173.26,-14.25 174.1,0" fill="url(#gc)" stroke="#0a2a3a" stroke-opacity="0.38" stroke-width="0.5"/><line x1="172" y1="-26.5" x2="172" y2="-0.5" stroke="#143c50" stroke-opacity="0.28" stroke-width="0.5"/></g>
<g transform="translate(0 496.5)"><polygon points="175.3,0 176.1,-15.25 176.6,-29.3 177.3,-30.5 178,-29.3 178.5,-15.25 179.3,0" fill="url(#gc)" stroke="#0a2a3a" stroke-opacity="0.38" stroke-width="0.5"/><line x1="177.3" y1="-28.5" x2="177.3" y2="-0.5" stroke="#143c50" stroke-opacity="0.28" stroke-width="0.5"/></g>
<g transform="translate(0 507.5)"><polygon points="159.4,-8.3 160.2,-37.5 160.8,-67.5 161.6,-88.5 162,-91.5 162.4,-88.5 163.2,-67.5 163.8,-37.5 164.8,-8.5" fill="url(#gc)" stroke="#0a2a3a" stroke-opacity="0.15" stroke-width="0.5"/></g>
<g transform="translate(0 500.6)"><polygon points="135.2,0 136.08,-20.4 136.7,-39.6 137.4,-40.8 138.1,-39.6 138.72,-20.4 139.6,0" fill="url(#gc)" stroke="#0a2a3a" stroke-opacity="0.38" stroke-width="0.5"/><line x1="137.4" y1="-38.8" x2="137.4" y2="-0.5" stroke="#143c50" stroke-opacity="0.28" stroke-width="0.5"/></g>
<g transform="translate(0 500.5)"><polygon points="139.8,0 140.68,-21.2 141.3,-41.2 142,-42.4 142.7,-41.2 143.32,-21.2 144.2,0" fill="url(#gc)" stroke="#0a2a3a" stroke-opacity="0.38" stroke-width="0.5"/><line x1="142" y1="-40.4" x2="142" y2="-0.5" stroke="#143c50" stroke-opacity="0.28" stroke-width="0.5"/></g>
<g transform="translate(0 499)"><polygon points="142.8,0 143.52,-20.75 143.9,-40.3 144.6,-41.5 145.3,-40.3 145.68,-20.75 146.4,0" fill="url(#gc)" stroke="#0a2a3a" stroke-opacity="0.38" stroke-width="0.5"/><line x1="144.6" y1="-39.5" x2="144.6" y2="-0.5" stroke="#143c50" stroke-opacity="0.28" stroke-width="0.5"/></g>
<g transform="translate(0 500.3)"><polygon points="145.3,0 146.18,-22.75 146.8,-44.3 147.5,-45.5 148.2,-44.3 148.82,-22.75 149.7,0" fill="url(#gc)" stroke="#0a2a3a" stroke-opacity="0.38" stroke-width="0.5"/><line x1="147.5" y1="-43.5" x2="147.5" y2="-0.5" stroke="#143c50" stroke-opacity="0.28" stroke-width="0.5"/></g>
<g transform="translate(0 500)"><polygon points="148.5,0 149.42,-23.25 150.1,-45.3 150.8,-46.5 151.5,-45.3 152.18,-23.25 153.1,0" fill="url(#gc)" stroke="#0a2a3a" stroke-opacity="0.38" stroke-width="0.5"/><line x1="150.8" y1="-44.5" x2="150.8" y2="-0.5" stroke="#143c50" stroke-opacity="0.28" stroke-width="0.5"/></g>
<g transform="translate(0 499.7)"><polygon points="153.6,0 154.48,-20.1 155.1,-39 155.8,-40.2 156.5,-39 157.12,-20.1 158,0" fill="url(#gc)" stroke="#0a2a3a" stroke-opacity="0.38" stroke-width="0.5"/><line x1="155.8" y1="-38.2" x2="155.8" y2="-0.5" stroke="#143c50" stroke-opacity="0.28" stroke-width="0.5"/></g>
<g transform="translate(0 499.5)"><polygon points="157.3,0 158.14,-24 158.7,-46.8 159.4,-48 160.1,-46.8 160.66,-24 161.5,0" fill="url(#gc)" stroke="#0a2a3a" stroke-opacity="0.38" stroke-width="0.5"/><line x1="159.4" y1="-46" x2="159.4" y2="-0.5" stroke="#143c50" stroke-opacity="0.28" stroke-width="0.5"/></g>
<g transform="translate(0 499)"><polygon points="162.5,0 163.38,-24.75 164,-48.3 164.7,-49.5 165.4,-48.3 166.02,-24.75 166.9,0" fill="url(#gc)" stroke="#0a2a3a" stroke-opacity="0.38" stroke-width="0.5"/><line x1="164.7" y1="-47.5" x2="164.7" y2="-0.5" stroke="#143c50" stroke-opacity="0.28" stroke-width="0.5"/></g>
<g transform="translate(0 498.6)"><polygon points="168.3,0 169.22,-24.55 169.9,-47.9 170.6,-49.1 171.3,-47.9 171.98,-24.55 172.9,0" fill="url(#gc)" stroke="#0a2a3a" stroke-opacity="0.38" stroke-width="0.5"/><line x1="170.6" y1="-47.1" x2="170.6" y2="-0.5" stroke="#143c50" stroke-opacity="0.28" stroke-width="0.5"/></g>
<g transform="translate(0 498.3)"><polygon points="171.1,0 171.86,-23.15 172.3,-45.1 173,-46.3 173.7,-45.1 174.14,-23.15 174.9,0" fill="url(#gc)" stroke="#0a2a3a" stroke-opacity="0.38" stroke-width="0.5"/><line x1="173" y1="-44.3" x2="173" y2="-0.5" stroke="#143c50" stroke-opacity="0.28" stroke-width="0.5"/></g>
<g transform="translate(0 498)"><polygon points="173.6,0 174.52,-25.9 175.2,-50.6 175.9,-51.8 176.6,-50.6 177.28,-25.9 178.2,0" fill="url(#gc)" stroke="#0a2a3a" stroke-opacity="0.38" stroke-width="0.5"/><line x1="175.9" y1="-49.8" x2="175.9" y2="-0.5" stroke="#143c50" stroke-opacity="0.28" stroke-width="0.5"/></g>
<g transform="translate(0 497.6)"><polygon points="176.4,0 177.24,-22.6 177.8,-44 178.5,-45.2 179.2,-44 179.76,-22.6 180.6,0" fill="url(#gc)" stroke="#0a2a3a" stroke-opacity="0.38" stroke-width="0.5"/><line x1="178.5" y1="-43.2" x2="178.5" y2="-0.5" stroke="#143c50" stroke-opacity="0.28" stroke-width="0.5"/></g>
<g transform="translate(0 495)"><polygon points="189.9,3.5 190.95,-16.6 191.6,-35.5 192,-36.7 192.4,-35.5 193.05,-16.6 194.1,3.5" fill="url(#gc)" stroke="#0a2a3a" stroke-opacity="0.3" stroke-width="0.5"/><line x1="192" y1="-34.7" x2="192" y2="3" stroke="#143c50" stroke-opacity="0.28" stroke-width="0.5"/></g>
<g transform="translate(0 495)"><polygon points="192.5,3 193.55,-17.5 194.2,-36.8 194.6,-38 195,-36.8 195.65,-17.5 196.7,3" fill="url(#gc)" stroke="#0a2a3a" stroke-opacity="0.3" stroke-width="0.5"/><line x1="194.6" y1="-36" x2="194.6" y2="2.5" stroke="#143c50" stroke-opacity="0.28" stroke-width="0.5"/></g>
<g transform="translate(0 492)"><polygon points="195.1,7.5 196.25,-21.15 197,-48.6 197.4,-49.8 197.8,-48.6 198.55,-21.15 199.7,7.5" fill="url(#gc)" stroke="#0a2a3a" stroke-opacity="0.3" stroke-width="0.5"/><line x1="197.4" y1="-47.8" x2="197.4" y2="7" stroke="#143c50" stroke-opacity="0.28" stroke-width="0.5"/></g>
<g transform="translate(0 501)"><polygon points="200.6,2 201.66,-23.45 202.45,-47.7 202.9,-48.9 203.35,-47.7 204.14,-23.45 205.2,2" fill="url(#gc)" stroke="#0a2a3a" stroke-opacity="0.3" stroke-width="0.5"/><line x1="202.9" y1="-46.9" x2="202.9" y2="1.5" stroke="#143c50" stroke-opacity="0.28" stroke-width="0.5"/></g>
<g transform="translate(0 498)"><polygon points="207.8,3.8 208.8,-16.1 209.4,-34.8 209.8,-36 210.2,-34.8 210.8,-16.1 211.8,3.8" fill="url(#gc)" stroke="#0a2a3a" stroke-opacity="0.3" stroke-width="0.5"/><line x1="209.8" y1="-34" x2="209.8" y2="3.3" stroke="#143c50" stroke-opacity="0.28" stroke-width="0.5"/></g>
<g transform="translate(0 500)"><polygon points="230.3,4.3 231.15,-15.1 231.6,-33.3 232,-34.5 232.4,-33.3 232.85,-15.1 233.7,4.3" fill="url(#gc)" stroke="#0a2a3a" stroke-opacity="0.3" stroke-width="0.5"/><line x1="232" y1="-32.5" x2="232" y2="3.8" stroke="#143c50" stroke-opacity="0.28" stroke-width="0.5"/></g>
<g transform="translate(0 493)"><polygon points="237.2,4.3 238.25,-16.4 238.9,-35.9 239.3,-37.1 239.7,-35.9 240.35,-16.4 241.4,4.3" fill="url(#gc)" stroke="#0a2a3a" stroke-opacity="0.3" stroke-width="0.5"/><line x1="239.3" y1="-35.1" x2="239.3" y2="3.8" stroke="#143c50" stroke-opacity="0.28" stroke-width="0.5"/></g>
<g transform="translate(0 496)"><polygon points="251.4,3.8 252.35,-16.6 252.9,-35.8 253.3,-37 253.7,-35.8 254.25,-16.6 255.2,3.8" fill="url(#gc)" stroke="#0a2a3a" stroke-opacity="0.3" stroke-width="0.5"/><line x1="253.3" y1="-35" x2="253.3" y2="3.3" stroke="#143c50" stroke-opacity="0.28" stroke-width="0.5"/></g>
<text class="ts" x="5" y="379.8" font-size="12" text-anchor="start">(c)</text>
<text class="ts" x="165" y="387.8" font-size="10.3" text-anchor="start"><tspan font-style="italic">β</tspan>=3</text>
<text class="ts" x="39" y="457.94" font-size="10" text-anchor="end">0.02</text>
<text class="ts" x="39" y="410.28" font-size="10" text-anchor="end">0.04</text>
<text class="ts" x="33.5" y="503.2" font-size="10" text-anchor="middle">0</text>
<text class="ts" x="54.5" y="516.9" font-size="10" text-anchor="middle">−2</text>
<text class="ts" x="91.3" y="519.3" font-size="10" text-anchor="middle">0</text>
<text class="ts" x="129.4" y="523.9" font-size="10" text-anchor="middle">2</text>
<text class="ts" x="169" y="529.3" font-size="10" text-anchor="middle">4</text>
<text class="ts" x="221.4" y="530.7" font-size="10" text-anchor="middle">0</text>
<text class="ts" x="265.7" y="516.7" font-size="10" text-anchor="middle">0.5</text>
<text class="ts" x="308.9" y="502.1" font-size="10" text-anchor="middle">1</text>
<text class="ts" font-size="11.5" text-anchor="middle" transform="translate(14.2 451.2) rotate(-90)"><tspan font-style="italic">P</tspan><tspan font-style="italic" font-size="8.3" dy="0.9">d</tspan></text>
<text class="ts" font-size="10.3" x="103" y="542.4"><tspan font-style="italic">d</tspan><tspan font-style="italic" font-size="7" dy="2">p</tspan><tspan dy="-2"> (μm)</tspan></text>
<text class="ts" font-size="10" x="277.6" y="524"><tspan font-style="italic">If</tspan><tspan font-style="italic" font-size="7" dy="2">p</tspan><tspan dy="-2"> (a.u.)</tspan></text>
<text class="ss" font-size="10" x="292.6" y="483.3">×<tspan dx="1.2">10</tspan><tspan font-size="5.6" dx="0.5" dy="-2.3">4</tspan></text>
<rect x="350" y="380.7" width="4.4" height="136.8" fill="url(#cc)"/>
<text class="ts" x="349.3" y="404.2" font-size="10" text-anchor="end">0.03</text>
<text class="ts" x="349.3" y="443.6" font-size="10" text-anchor="end">0.02</text>
<text class="ts" x="349.3" y="483.3" font-size="10" text-anchor="end">0.01</text>
<text class="ts" x="342.6" y="522.7" font-size="10" text-anchor="middle">0</text>
<text class="ts" font-size="10.6" x="346.5" y="371"><tspan font-style="italic">P</tspan><tspan font-style="italic" font-size="8" dy="2.2">d</tspan></text></g>
</svg>
</body>
</html>
